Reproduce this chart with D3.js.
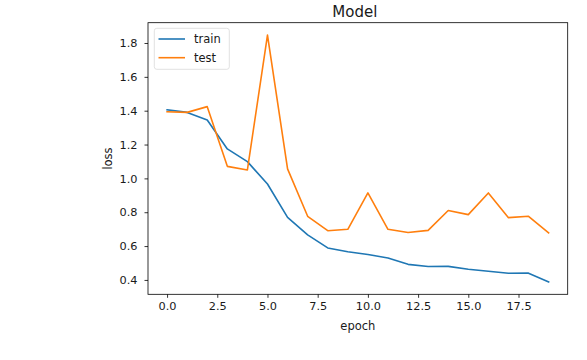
<!DOCTYPE html>
<html><head><meta charset="utf-8">
<script src="https://cdn.jsdelivr.net/npm/d3@7"></script>
<style>body{margin:0;background:#fff}svg{display:block}text{font-family:"DejaVu Sans",sans-serif;fill:#1a1a1a}</style>
</head><body>
<svg id="chart" width="587" height="360"></svg>
<script>
const epochs = d3.range(0, 20);
const trainLoss = [1.405, 1.39, 1.345, 1.174, 1.099, 0.967, 0.770, 0.666, 0.589, 0.566, 0.550, 0.530, 0.492, 0.479, 0.480, 0.463, 0.451, 0.439, 0.440, 0.388];
const testLoss = [1.394, 1.39, 1.424, 1.071, 1.050, 1.847, 1.056, 0.776, 0.691, 0.699, 0.914, 0.699, 0.680, 0.693, 0.810, 0.786, 0.914, 0.768, 0.776, 0.678];
const xTicks = [0, 2.5, 5, 7.5, 10, 12.5, 15, 17.5];
const yTicks = [0.4, 0.6, 0.8, 1.0, 1.2, 1.4, 1.6, 1.8];
const seriesNames = ["train", "test"];
const colors = ["#1f77b4", "#ff7f0e"];

const L = 148, R = 567.7, T = 22.7, B = 294.3;
const svg = d3.select("#chart");
const allY = trainLoss.concat(testLoss);
const yMin = d3.min(allY), yMax = d3.max(allY), yPad = (yMax - yMin) * 0.05;
const x = d3.scaleLinear().domain([-0.95, 19.95]).range([L, R]);
const y = d3.scaleLinear().domain([yMin - yPad, yMax + yPad]).range([B, T]);

const line = d3.line().x((d, i) => x(epochs[i])).y(d => y(d));
[trainLoss, testLoss].forEach((s, k) => {
  svg.append("path").datum(s).attr("d", line).attr("fill", "none")
    .attr("stroke", colors[k]).attr("stroke-width", 1.6).attr("stroke-linejoin", "round").attr("stroke-linecap", "square");
});

const xAxis = svg.append("g").attr("transform", `translate(0,${B})`)
  .call(d3.axisBottom(x).tickValues(xTicks).tickFormat(d3.format(".1f")).tickSize(3.5).tickPadding(4.5).tickSizeOuter(0));
const yAxis = svg.append("g").attr("transform", `translate(${L},0)`)
  .call(d3.axisLeft(y).tickValues(yTicks).tickFormat(d3.format(".1f")).tickSize(3.5).tickPadding(7).tickSizeOuter(0));
[xAxis, yAxis].forEach(g => {
  g.select(".domain").remove();
  g.selectAll("line").attr("stroke", "#000").attr("stroke-width", 0.8);
  g.selectAll("text").style("font-size", "11.3px").style("font-family", '"DejaVu Sans",sans-serif').attr("fill", "#1a1a1a");
});

svg.append("rect").attr("x", L).attr("y", T).attr("width", R - L).attr("height", B - T)
  .attr("fill", "none").attr("stroke", "#000").attr("stroke-width", 0.8);

svg.append("text").attr("x", (L + R) / 2 - 3).attr("y", 17).attr("text-anchor", "middle")
  .style("font-size", "15px").text("Model");
svg.append("text").attr("x", (L + R) / 2).attr("y", 330).attr("text-anchor", "middle")
  .style("font-size", "11.5px").text("epoch");
svg.append("text").attr("transform", `translate(112,${(T + B) / 2}) rotate(-90)`).attr("text-anchor", "middle")
  .style("font-size", "11.5px").text("loss");

const lg = svg.append("g");
lg.append("rect").attr("x", 154.3).attr("y", 28.3).attr("width", 75).attr("height", 41).attr("rx", 2.5)
  .attr("fill", "#fff").attr("fill-opacity", 0.8).attr("stroke", "#d9d9d9").attr("stroke-width", 0.8);
seriesNames.forEach((n, k) => {
  const yy = 39 + k * 18.7;
  lg.append("line").attr("x1", 158.5).attr("x2", 185).attr("y1", yy).attr("y2", yy)
    .attr("stroke", colors[k]).attr("stroke-width", 1.6);
  lg.append("text").attr("x", 194).attr("y", yy + 4).style("font-size", "11.5px").text(n);
});
</script>
</body></html>
